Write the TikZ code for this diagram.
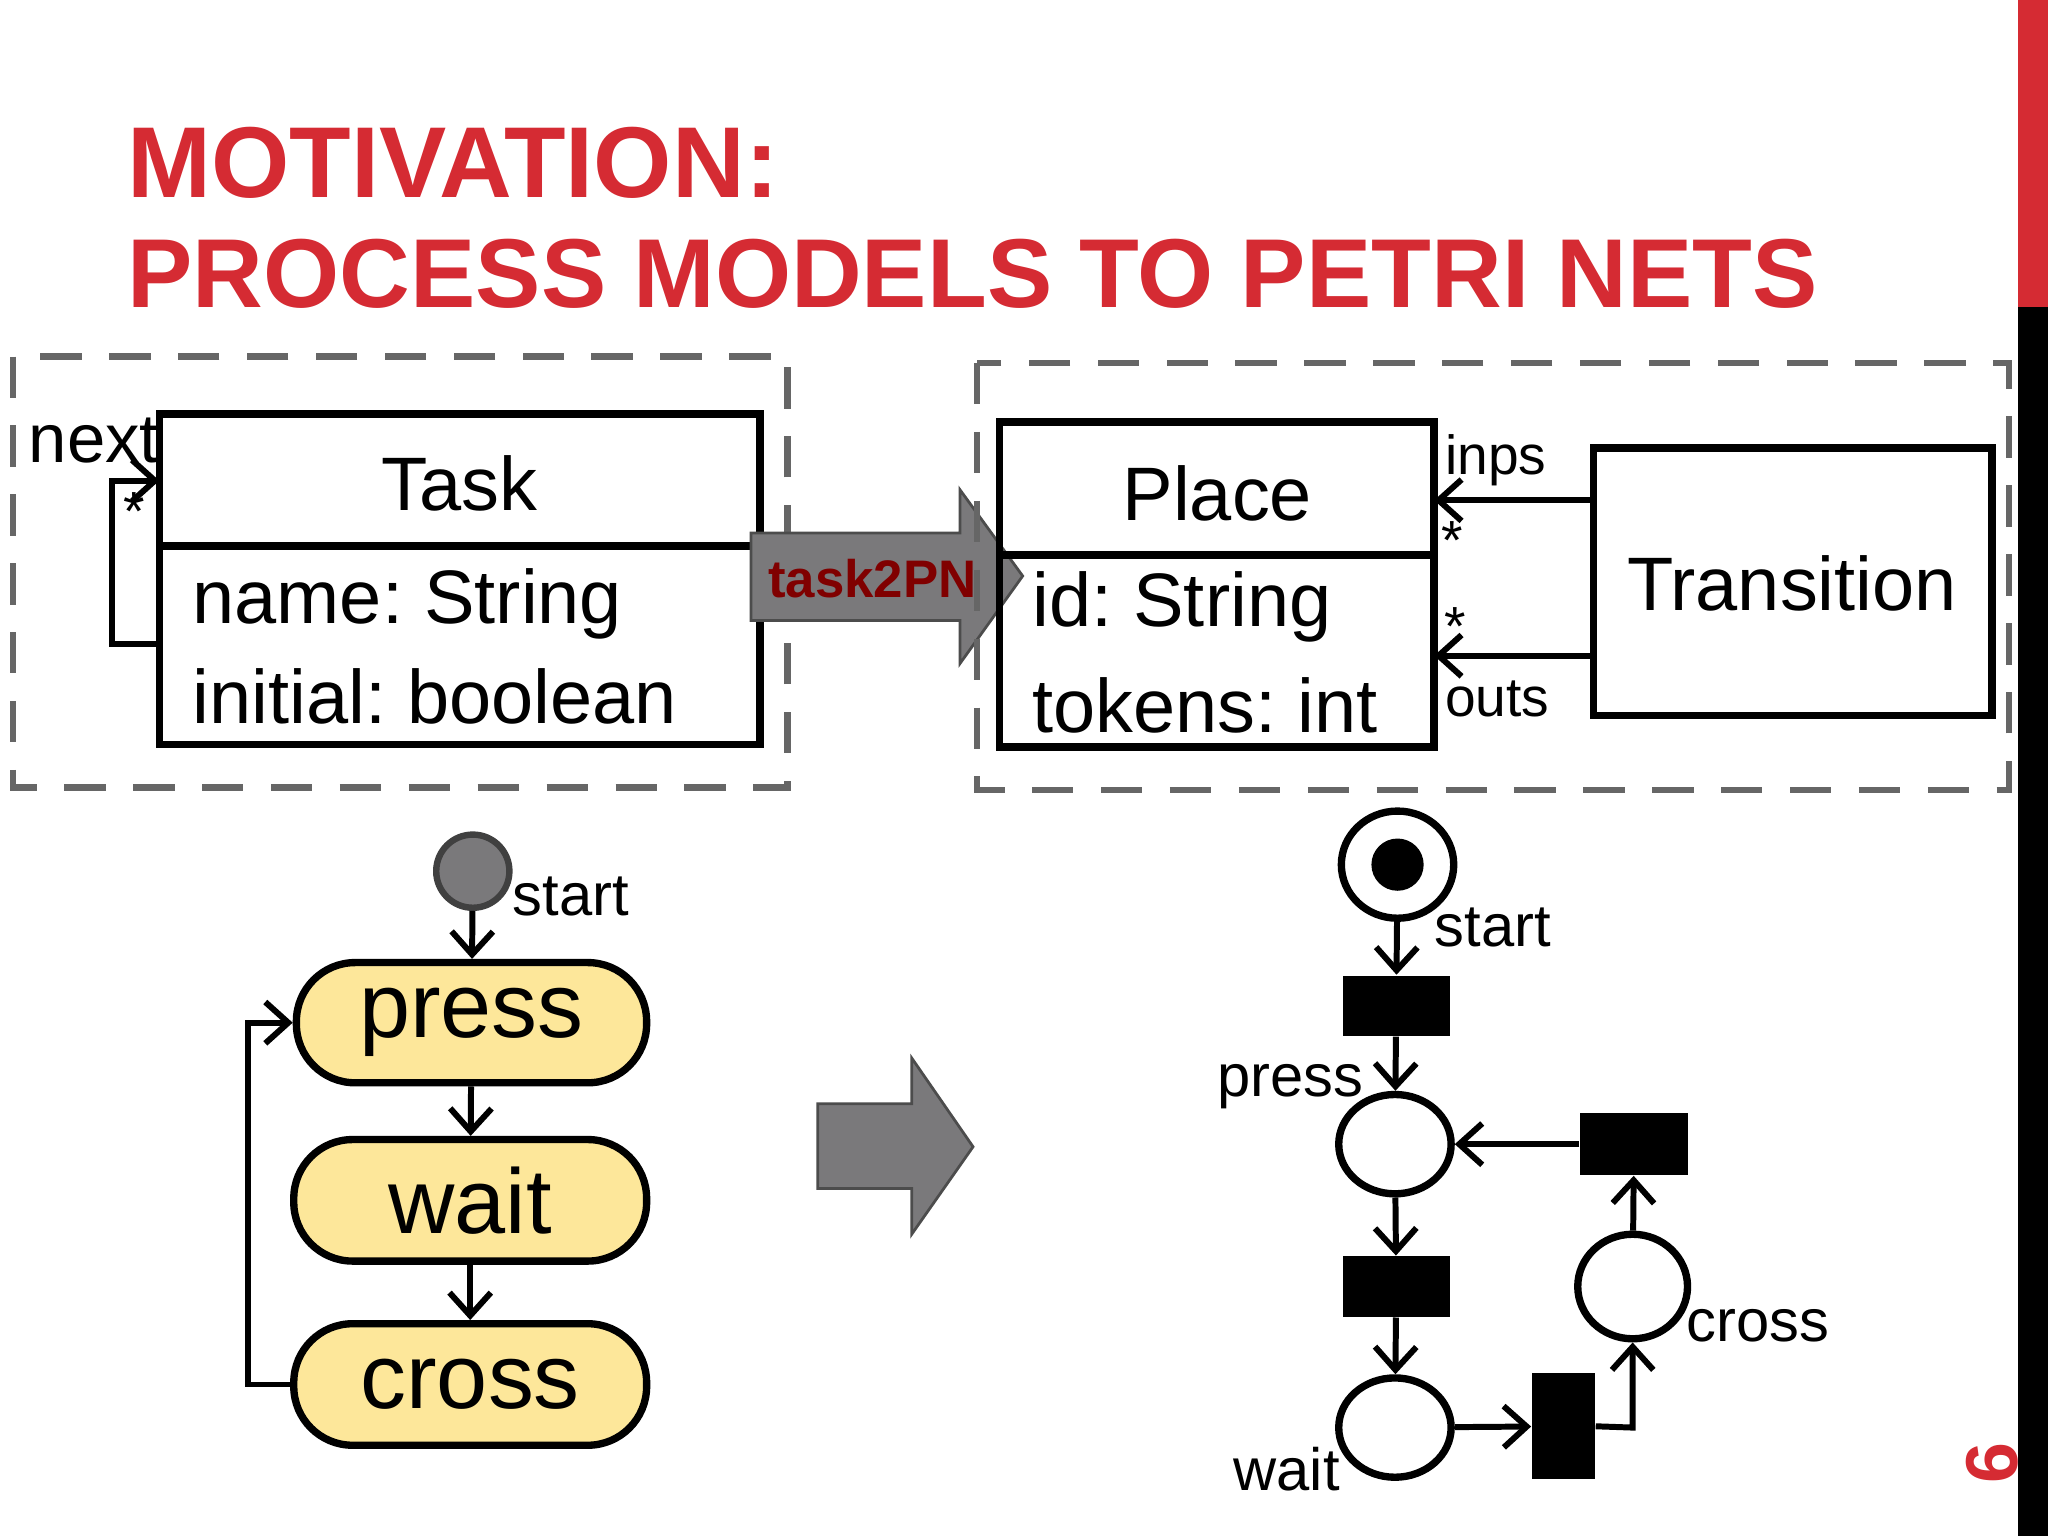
\documentclass[tikz,border=0pt]{standalone}
\usepackage{fontspec}
\setmainfont{Liberation Sans}
\frenchspacing
\usetikzlibrary{arrows.meta,shapes.geometric}
\definecolor{tred}{HTML}{D52B33}
\definecolor{ayel}{HTML}{FDE79A}
\definecolor{agray}{HTML}{7A797B}
\begin{document}
\begin{tikzpicture}[x=0.01cm,y=-0.01cm,
  box/.style={draw,line width=1.6pt},
  dbox/.style={draw=gray!80!black,line width=1.4pt,dash pattern=on 9pt off 6pt},
  arr/.style={line width=1.3pt,-{Straight Barb[length=5pt,width=9pt]}},
  act/.style={draw,line width=1.6pt,fill=ayel,rounded corners=0.45cm},
  pl/.style={draw,line width=1.6pt,ellipse,inner sep=0},
  tr/.style={fill=black},
  lbl/.style={font=\fontsize{12}{14}\selectfont},
  cls/.style={font=\fontsize{16.5}{20}\selectfont},
  big/.style={font=\fontsize{20}{24}\selectfont}]
\useasboundingbox (0,0) rectangle (1568,1176);
\fill[white] (0,0) rectangle (1568,1176);
% side bar
\fill[tred] (1545,0) rectangle (1568,235);
\fill[black] (1545,235) rectangle (1568,1176);
\node[rotate=90,text=tred,font=\bfseries\fontsize{16}{18}\selectfont] (pg) at (1525,1120) {6};
% title
\node[anchor=south west,inner sep=0,text=tred] (t1) at (97,153) {\resizebox{4.98cm}{!}{\bfseries MOTIVATION:}};
\node[anchor=south west,inner sep=0,text=tred] (t2) at (97,237) {\resizebox{12.93cm}{!}{\bfseries PROCESS MODELS TO PETRI NETS}};
% left model
\draw[dbox] (10,273) rectangle (603,603);
\draw[box] (122,317) rectangle (582,570);
\draw[box] (122,418) -- (582,418);
\node[cls] (task) at (352,370) {Task};
\node[cls,anchor=west] (a1) at (135,462) {name: String};
\node[cls,anchor=west] (a2) at (135,533) {initial: boolean};
\coordinate (tl) at (122,368);
\coordinate (tb) at (122,493);
\draw[arr] (tb) -- (86,493) -- (86,368) -- (tl);
\node[font=\fontsize{15}{18}\selectfont] (next) at (72,337) {next};
\node[lbl] (st1) at (103,392) {*};
% task2PN arrow
\fill[agray,draw=gray!60!black,line width=0.6pt] (575,408) -- (735,408) -- (735,375) -- (783,441) -- (735,508) -- (735,475) -- (575,475) -- cycle;
\node[text=red!50!black,font=\bfseries\fontsize{11.5}{14}\selectfont] (t2pn) at (668,443) {task2PN};
% right model
\draw[dbox] (748,278) rectangle (1538,605);
\draw[box] (765,323) rectangle (1098,572);
\draw[box] (765,425) -- (1098,425);
\node[cls] (place) at (932,378) {Place};
\node[cls,anchor=west] (p1) at (778,465) {id: String};
\node[cls,anchor=west] (p2) at (778,540) {tokens: int};
\draw[box] (1220,343) rectangle (1525,548);
\node[cls] (trans) at (1372,447) {Transition};
\draw[arr] (1220,383) -- (1098,383);
\draw[arr] (1220,502) -- (1098,502);
\node[lbl,anchor=west] (inps) at (1094,352) {inps};
\node[lbl] (s1) at (1112,414) {*};
\node[lbl] (s2) at (1114,480) {*};
\node[lbl,anchor=west] (outs) at (1094,535) {outs};
% activity diagram
\node[circle,draw=gray!50!black,fill=agray,line width=1.4pt,minimum size=0.56cm,inner sep=0] (start) at (362,667) {};
\node[lbl,font=\fontsize{13}{15}\selectfont] (startl) at (437,686) {start};
\node[act,minimum width=2.68cm,minimum height=0.92cm,big] (press) at (361,783) {\raisebox{-3pt}{press}};
\node[act,minimum width=2.70cm,minimum height=0.93cm,big] (wait) at (360,919) {wait};
\node[act,minimum width=2.70cm,minimum height=0.93cm,big] (cross) at (360,1060) {cross};
\draw[arr] (start) -- (press);
\draw[arr] (press) -- (wait);
\draw[arr] (wait) -- (cross);
\draw[arr] (cross.west) -- (190,1060) -- (190,783) -- (press.west);
% middle arrow
\fill[agray,draw=gray!60!black,line width=0.6pt] (626,845) -- (698,845) -- (698,810) -- (745,878) -- (698,945) -- (698,910) -- (626,910) -- cycle;
% petri net
\node[pl,minimum width=0.86cm,minimum height=0.82cm] (ps) at (1070,662) {};
\fill (ps) circle (20);
\node[lbl,font=\fontsize{13}{15}\selectfont] (psl) at (1143,710) {start};
\node[tr,minimum width=0.82cm,minimum height=0.46cm,inner sep=0] (t1n) at (1069,770) {};
\node[pl,minimum width=0.86cm,minimum height=0.76cm] (pp) at (1068,876) {};
\node[lbl,font=\fontsize{13}{15}\selectfont] (ppl) at (988,832) {press};
\node[tr,minimum width=0.82cm,minimum height=0.46cm,inner sep=0] (t2n) at (1069,985) {};
\node[pl,minimum width=0.86cm,minimum height=0.76cm] (pw) at (1068,1093) {};
\node[lbl,font=\fontsize{13}{15}\selectfont] (pwl) at (985,1125) {wait};
\node[tr,minimum width=0.48cm,minimum height=0.81cm,inner sep=0] (t3n) at (1197,1092) {};
\node[pl,minimum width=0.84cm,minimum height=0.80cm] (pc) at (1250,985) {};
\node[lbl,font=\fontsize{13}{15}\selectfont] (pcl) at (1346,1015) {cross};
\node[tr,minimum width=0.82cm,minimum height=0.47cm,inner sep=0] (t4n) at (1251,876) {};
\draw[arr] (ps) -- (t1n);
\draw[arr] (t1n) -- (pp);
\draw[arr] (pp) -- (t2n);
\draw[arr] (t2n) -- (pw);
\draw[arr] (pw) -- (t3n);
\draw[arr] (t3n.east) -- (1250,1093) -- (pc.south);
\draw[arr] (pc) -- (t4n);
\draw[arr] (t4n) -- (pp);
\end{tikzpicture}
\end{document}
